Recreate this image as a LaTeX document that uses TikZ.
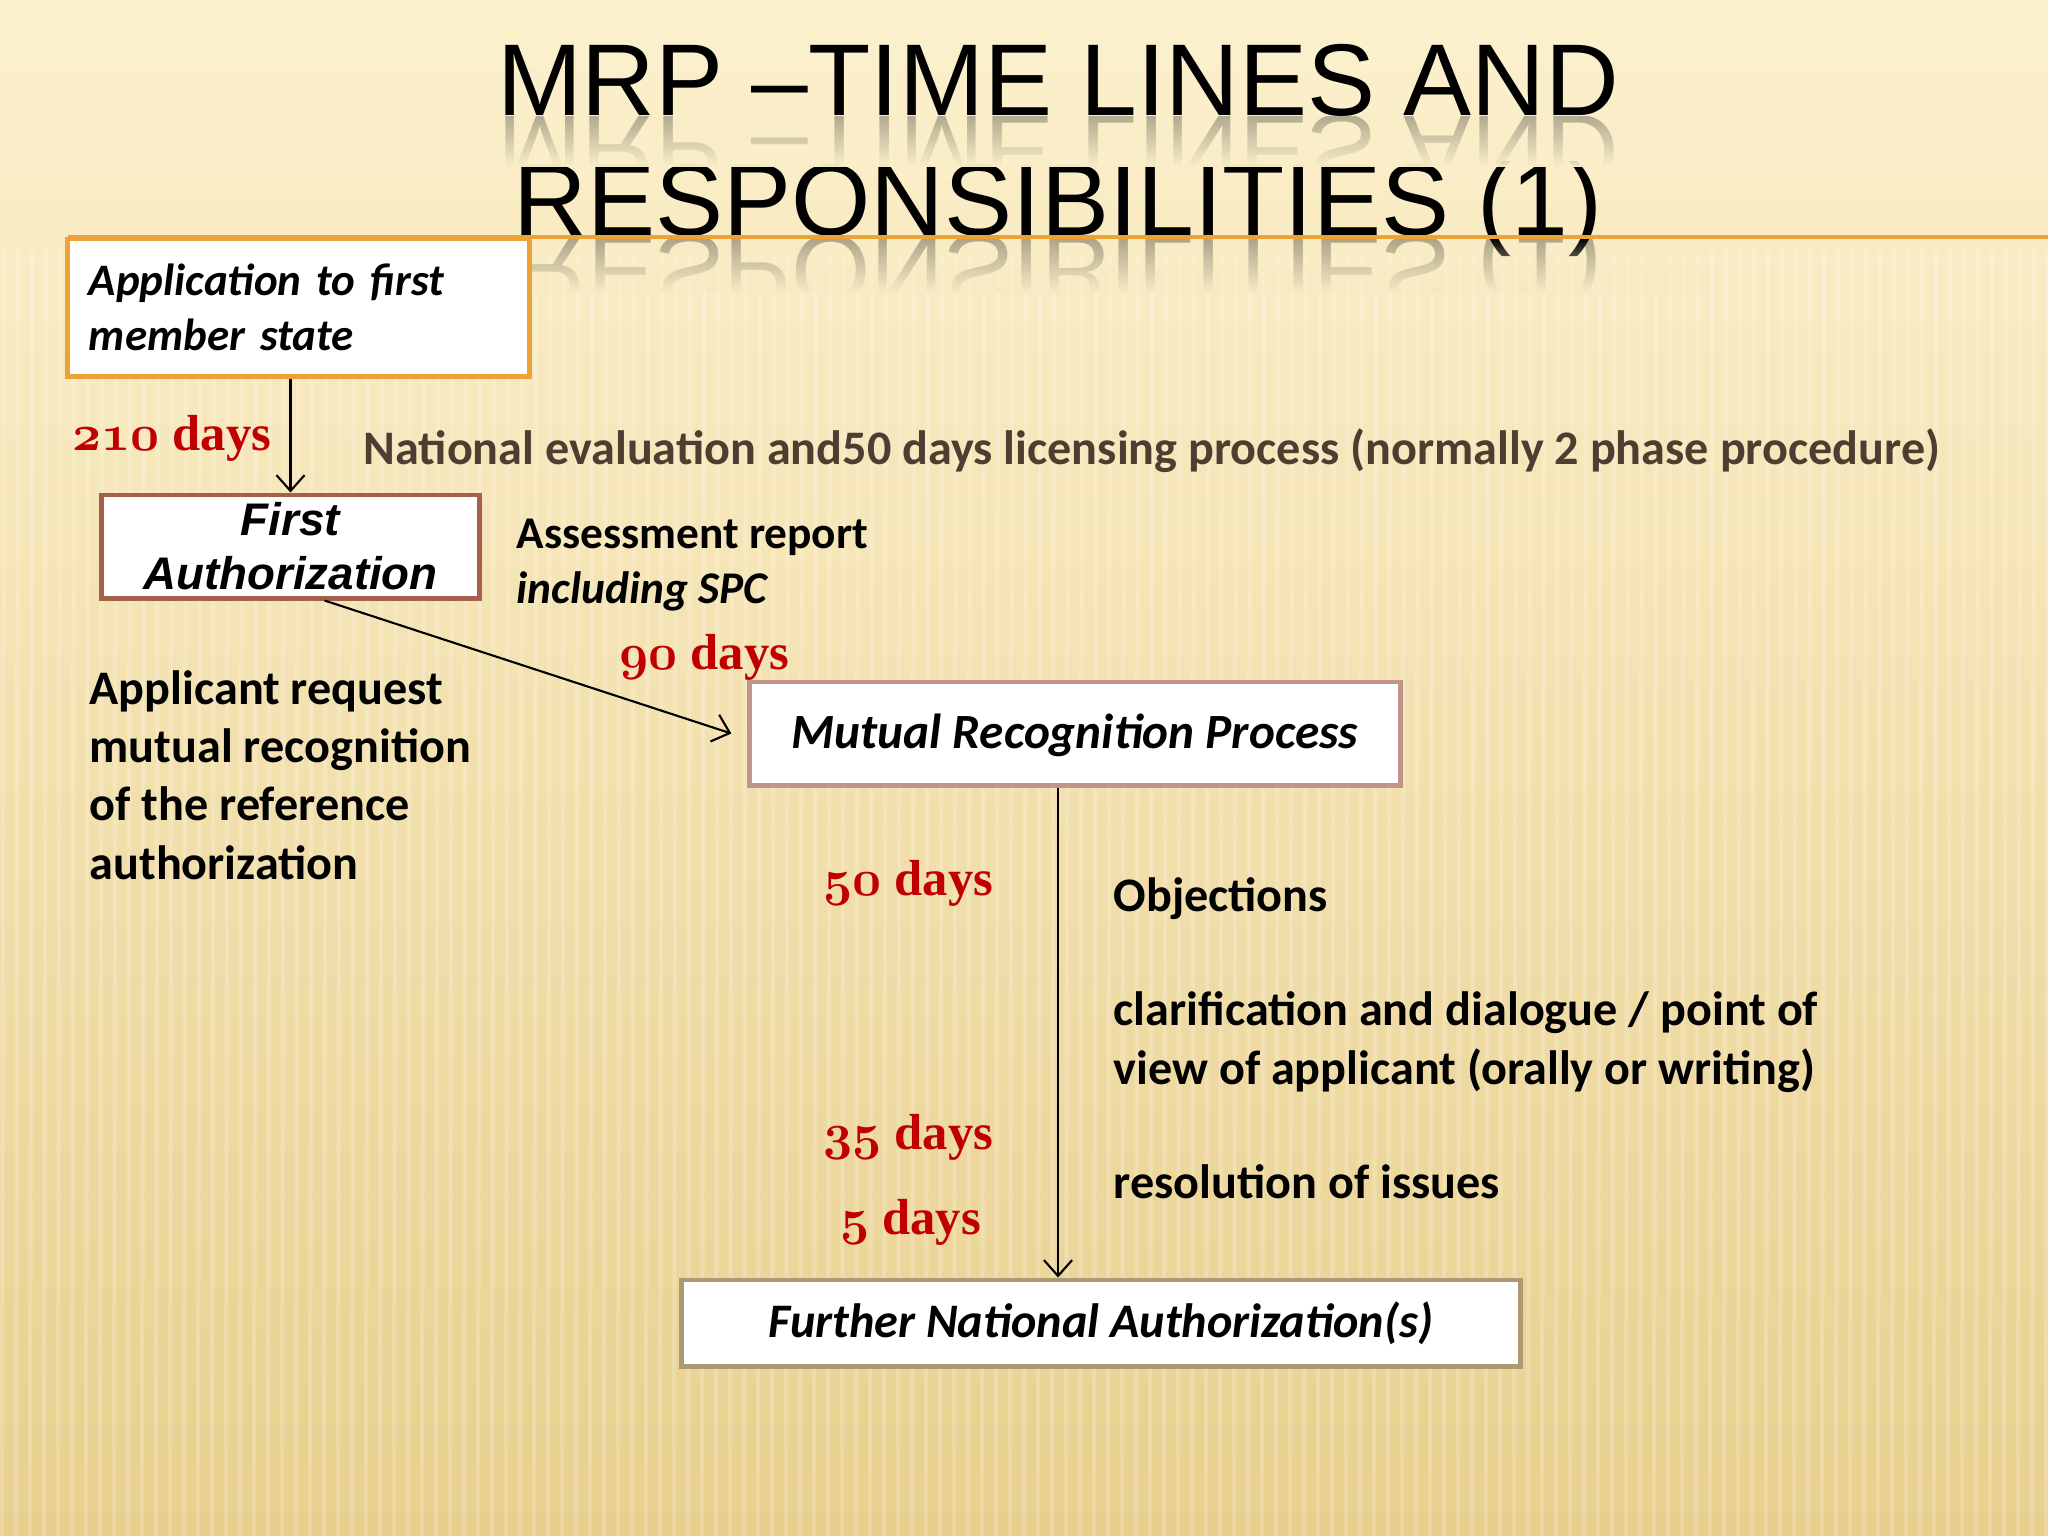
\documentclass[tikz,border=0pt]{standalone}
\usepackage{fontspec}
\setmainfont{Carlito}
\newfontfamily\arialf{Liberation Sans}
\newfontfamily\timesf{Liberation Serif}
\usetikzlibrary{arrows.meta,calc,fadings}
\definecolor{bgtop}{HTML}{FCF1CE}
\definecolor{bgbot}{HTML}{E8CF8E}
\definecolor{orangeln}{HTML}{EDA235}
\definecolor{brownA}{HTML}{A5604A}
\definecolor{pinkB}{HTML}{C0948A}
\definecolor{khakiC}{HTML}{AD9A72}
\definecolor{dayred}{HTML}{C00000}
\definecolor{natgray}{HTML}{4E3D30}
\newcommand\osn[1]{{\usefont{OML}{cmm}{b}{it}#1}}
\tikzset{
  box/.style={draw=#1, line width=1.4pt, fill=white, inner sep=0pt},
  title/.style={font={\fontsize{29}{34}\selectfont\arialf}, anchor=base, inner sep=0pt},
  body/.style={font={\fontsize{13.7}{16.5}\selectfont\bfseries}, anchor=base west, inner sep=0pt, align=left},
  days/.style={text=dayred, font={\fontsize{14.4}{17}\selectfont\timesf\bfseries}, anchor=base west, inner sep=0pt},
  arr/.style={line width=0.6pt, -{Straight Barb[length=4.5pt,width=8pt]}}
}
\begin{document}
\begin{tikzpicture}[x=0.01cm,y=-0.01cm]
\useasboundingbox (0,0) rectangle (2048,1536);
% background
\shade[top color=bgtop, bottom color=bgbot] (0,0) rectangle (2048,1536);
\foreach \i in {0,...,146} {
  \draw[white, opacity=0.2, line width=1.2pt] (\i*14+4,250) -- (\i*14+2,1536);
}
% title
\node[title] (t1) at (1058,115) {MRP –TIME LINES AND};
\node[title] (t2) at (1058,235) {RESPONSIBILITIES (1)};
\begin{scope}
  \clip (450,116) rectangle (1700,166);
  \node[title, opacity=0.28, yscale=-1] (t1r) at (1058,115) {MRP –TIME LINES AND};
\end{scope}
\fill[bgtop!93!bgbot, path fading=north] (450,117) rectangle (1700,167);
\begin{scope}
  \clip (450,236) rectangle (1700,292);
  \node[title, opacity=0.3, yscale=-1] (t2r) at (1058,235) {RESPONSIBILITIES (1)};
\end{scope}
\fill[bgtop!86!bgbot, path fading=north] (450,238) rectangle (1700,293);
\draw[orangeln, line width=1.1pt] (68,237) -- (2048,237);
% boxes
\node[box=orangeln, minimum width=4.61cm, minimum height=1.37cm, text width=4.19cm, align=left,
      font={\fontsize{12.8}{15.6}\selectfont\bfseries\itshape}] (b1) at (298.5,307.5) {Application to first\\member state};
\node[box=brownA, minimum width=3.77cm, minimum height=1.03cm, align=center,
      font={\fontsize{13}{15.4}\selectfont\arialf\bfseries\itshape}] (b2) at (290.5,546.5) {First\\Authorization};
\node[box=pinkB, minimum width=6.50cm, minimum height=1.03cm, text depth=0.05cm,
      font={\fontsize{14}{16}\selectfont\bfseries\itshape}] (b3) at (1075,733.5) {Mutual Recognition Process};
\node[box=khakiC, minimum width=8.38cm, minimum height=0.86cm, text depth=0.07cm,
      font={\fontsize{13.7}{16}\selectfont\bfseries\itshape}] (b4) at (1101,1323) {Further National Authorization(s)};
% connectors
\draw[arr] (b1.south -| b2.north) -- (b2.north);
\draw[arr] ($(b2.south)+(34,0)$) -- ($(b3.west)+(-16,0)$);
\draw[arr] ($(b3.south)+(-17,0)$) -- ($(b4.north)+(-43,0)$);
% labels
\node[days] (d210) at (72,450) {\osn{210} days};
\node[body, text=natgray] (nat) at (363,464) {National evaluation and50 days licensing process (normally 2 phase procedure)};
\node[body, font={\fontsize{12.9}{15.6}\selectfont\bfseries}] (ass) at (516,603) {Assessment report\\\itshape including SPC};
\node[days] (d90) at (619,669) {\osn{90} days};
\node[body] (appl) at (89,879) {Applicant request\\mutual recognition\\of the reference\\authorization};
\node[days] (d50) at (823,895) {\osn{50} days};
\node[days] (d35) at (823,1149) {\osn{35} days};
\node[days] (d5) at (840,1234) {\osn{5} days};
\node[body] (obj) at (1113,911) {Objections};
\node[body] (clar) at (1113,1084) {clarification and dialogue / point of\\view of applicant (orally or writing)};
\node[body] (res) at (1113,1198) {resolution of issues};
\end{tikzpicture}
\end{document}
